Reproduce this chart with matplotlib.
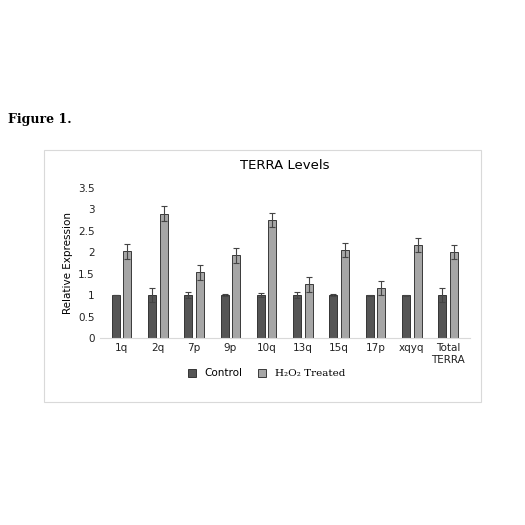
import numpy as np
import matplotlib.pyplot as plt
from matplotlib.patches import Rectangle

categories = ['1q', '2q', '7p', '9p', '10q', '13q', '15q', '17p', 'xqyq', 'Total\nTERRA']
control = [1, 1, 1, 1, 1, 1, 1, 1, 1, 1]
control_err = [0, 0.17, 0.07, 0.03, 0.05, 0.07, 0.03, 0.01, 0.01, 0.16]
treated = [2.02, 2.9, 1.53, 1.93, 2.75, 1.25, 2.05, 1.17, 2.17, 2.01]
treated_err = [0.17, 0.17, 0.17, 0.17, 0.17, 0.17, 0.17, 0.17, 0.17, 0.17]

fig = plt.figure(figsize=(5.25, 5.25), dpi=100)
fig.text(0.015, 0.765, 'Figure 1.', family='DejaVu Serif', weight='bold', fontsize=9)
fig.patches.append(Rectangle((0.084, 0.234), 0.832, 0.48, transform=fig.transFigure,
                             facecolor='none', edgecolor='#d9d9d9', lw=0.8, zorder=-1))

ax = fig.add_axes([0.19, 0.356, 0.705, 0.286])
ax.patch.set_alpha(0)
x = np.arange(len(categories))
w = 0.22
ekw = dict(elinewidth=0.8, capthick=0.8, ecolor='#444444')
ax.bar(x - 0.16, control, w, yerr=control_err, capsize=2.5, color='#555555',
       edgecolor='#222222', lw=0.6, error_kw=ekw, label='Control')
ax.bar(x + 0.16, treated, w, yerr=treated_err, capsize=2.5, color='#a6a6a6',
       edgecolor='#222222', lw=0.6, error_kw=ekw, label='H₂O₂ Treated')

ax.set_ylim(0, 3.5)
ax.set_yticks(np.arange(0, 3.51, 0.5))
ax.set_yticklabels(['0', '0.5', '1', '1.5', '2', '2.5', '3', '3.5'])
ax.set_xlim(-0.6, len(categories) - 0.4)
ax.set_xticks(x)
ax.set_xticklabels(categories)
ax.tick_params(length=0, labelsize=7.5, colors='#222222')
for s in ['top', 'right', 'left']:
    ax.spines[s].set_visible(False)
ax.spines['bottom'].set_color('#d9d9d9')
ax.set_ylabel('Relative Expression', fontsize=7.5)
ax.set_title('TERRA Levels', fontsize=9.5, pad=14)
leg = ax.legend(loc='upper center', bbox_to_anchor=(0.45, -0.14), ncol=2, frameon=False,
                fontsize=7.5, handlelength=0.8, handleheight=0.8, columnspacing=1.5)
leg.get_texts()[1].set_family('DejaVu Serif')

fig.savefig('out.png', dpi=100)
